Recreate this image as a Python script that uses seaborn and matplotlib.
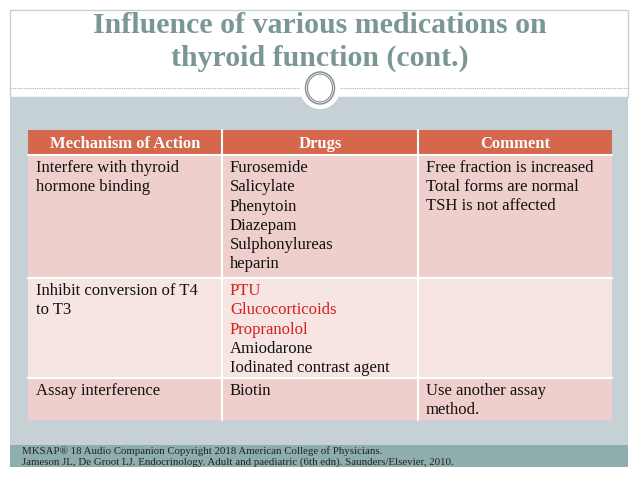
import matplotlib
matplotlib.use("Agg")
import matplotlib.pyplot as plt
import seaborn as sns
from matplotlib.patches import Rectangle, Circle, Ellipse

sns.set_theme(style="white")
plt.rcParams['font.family'] = ['Liberation Serif', 'DejaVu Serif']

title = "Influence of various medications on\nthyroid function (cont.)"
headers = ["Mechanism of Action", "Drugs", "Comment"]
mechanisms = ["Interfere with thyroid\nhormone binding", "Inhibit conversion of T4\nto T3", "Assay interference"]
drugs = [["Furosemide", "Salicylate", "Phenytoin", "Diazepam", "Sulphonylureas", "heparin"],
         ["PTU", "Glucocorticoids", "Propranolol", "Amiodarone", "Iodinated contrast agent"],
         ["Biotin"]]
drug_red = [[False]*6, [True, True, True, False, False], [False]]
comments = ["Free fraction is increased\nTotal forms are normal\nTSH is not affected", "", "Use another assay\nmethod."]
footer = ["MKSAP® 18 Audio Companion Copyright 2018 American College of Physicians.",
          "Jameson JL, De Groot LJ. Endocrinology. Adult and paediatric (6th edn). Saunders/Elsevier, 2010."]

W, H = 638, 478
fig = plt.figure(figsize=(W/100, H/100), dpi=100)
ax = fig.add_axes([0, 0, 1, 1])
ax.set_xlim(0, W); ax.set_ylim(H, 0); ax.axis("off")

ax.add_patch(Rectangle((10, 10), 618, 87, fc="white", ec="#c8d0d4", lw=1))
ax.add_patch(Rectangle((10, 97), 618, 348, fc="#c6d1d6", ec="none"))
ax.add_patch(Rectangle((10, 445), 618, 22, fc="#8eadad", ec="none"))
ax.plot([10, 628], [88, 88], ls=(0, (1, 1)), color="#a8b0b4", lw=0.8)
ax.add_patch(Circle((320, 89), 20, fc="white", ec="none", zorder=3))
ax.add_patch(Ellipse((320, 88), 29, 32, fc="white", ec="#7f8a8e", lw=1.0, zorder=4))
ax.add_patch(Ellipse((320, 88), 25, 28, fc="white", ec="#7f8a8e", lw=0.8, zorder=4))

ax.text(320, 42, title, ha="center", va="center", fontsize=21.5, fontweight="bold",
        color="#7a9796", linespacing=1.3)

cols = [28, 222, 418, 612]
rows = [130, 155, 278, 378, 420]
ax.add_patch(Rectangle((cols[0], rows[0]), cols[3]-cols[0], rows[1]-rows[0], fc="#d4674c", ec="none"))
for j, h in enumerate(headers):
    ax.text((cols[j]+cols[j+1])/2, (rows[0]+rows[1])/2+1, h, ha="center", va="center",
            fontsize=12, fontweight="bold", color="white")
fills = ["#efcfcc", "#f7e5e3", "#efcfcc"]
lh = 19.3
for i in range(3):
    y0 = rows[i+1]
    ax.add_patch(Rectangle((cols[0], y0), cols[3]-cols[0], rows[i+2]-y0, fc=fills[i], ec="none"))
    ax.text(cols[0]+8, y0+5, mechanisms[i], ha="left", va="top", fontsize=12, color="#111", linespacing=1.25)
    for k, d in enumerate(drugs[i]):
        ax.text(cols[1]+8, y0+5+k*lh, d, ha="left", va="top", fontsize=12,
                color="#d42020" if drug_red[i][k] else "#111")
    ax.text(cols[2]+8, y0+5, comments[i], ha="left", va="top", fontsize=12, color="#111", linespacing=1.25)
for x in cols[1:3]:
    ax.plot([x, x], [rows[0], rows[-1]], color="white", lw=1.5)
for y in rows[1:-1]:
    ax.plot([cols[0], cols[3]], [y, y], color="white", lw=1.5)

ax.text(22, 451, footer[0], ha="left", va="center", fontsize=7.8, color="#222")
ax.text(22, 462, footer[1], ha="left", va="center", fontsize=7.8, color="#222")

fig.savefig("out.png", dpi=100)
